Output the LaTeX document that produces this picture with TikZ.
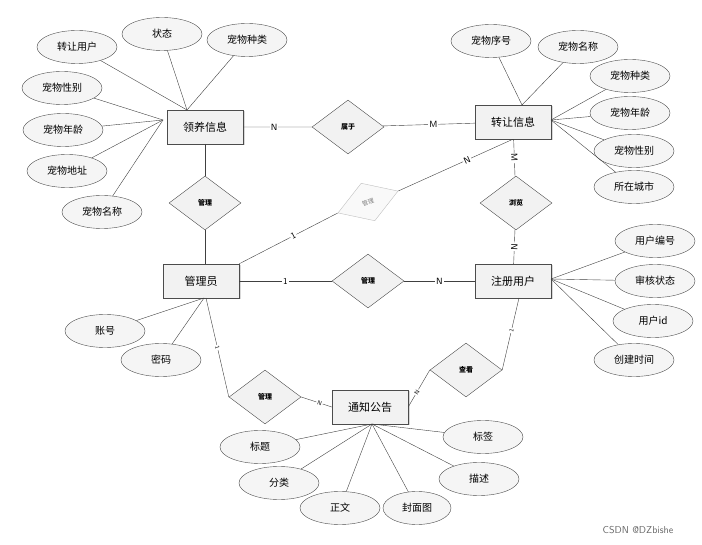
\documentclass[tikz,border=0pt]{standalone}
\usepackage{fontspec}
\newfontfamily\cjk{Noto Sans CJK SC}
\usetikzlibrary{shapes.geometric,shadows}
\begin{document}
\begin{tikzpicture}[x=1pt,y=-1pt,
  ent/.style={draw=black!70,fill=gray!10,minimum width=76pt,minimum height=34pt,font=\cjk\fontsize{11}{12}\selectfont,drop shadow={shadow xshift=1.5pt,shadow yshift=-1.5pt,opacity=0.3}},
  att/.style={draw=black!70,fill=gray!8,ellipse,minimum width=80pt,minimum height=33pt,inner sep=0pt,font=\cjk\fontsize{10}{12}\selectfont},
  rel/.style={draw=black!70,fill=gray!10,diamond,minimum width=72pt,minimum height=54pt,inner sep=0pt,font=\cjk\fontsize{7}{8}\selectfont\bfseries},
  ln/.style={draw=black!75},
  lab/.style={font=\sffamily\fontsize{9}{10}\selectfont,inner sep=1pt,fill=white},
  slab/.style={lab,sloped,font=\sffamily\fontsize{6}{7}\selectfont}]
\useasboundingbox (0,0) rectangle (702,545);
% entities
\node[ent] (ly) at (205,127) {领养信息};
\node[ent] (zr) at (513,122) {转让信息};
\node[ent] (gl) at (201,281) {管理员};
\node[ent] (zc) at (513,281) {注册用户};
\node[ent] (tz) at (370,407) {通知公告};
% relations
\node[rel] (r1) at (348,127) {属于};
\node[rel] (r2) at (205,203) {管理};
\node[rel,draw=gray!50,fill=gray!5,text=gray,rotate=20,minimum width=64pt,minimum height=40pt,font=\cjk\fontsize{6}{7}\selectfont] (r3) at (368,202) {管理};
\node[rel] (r4) at (516,203) {浏览};
\node[rel] (r5) at (368,281) {管理};
\node[rel] (r6) at (466,370) {查看};
\node[rel] (r7) at (265,397) {管理};
% connectors
\draw[ln] (ly) -- node[lab,pos=0.45]{N} (r1) -- node[lab,pos=0.55]{M} (zr);
\draw[ln] (205,144) -- (r2) -- (205,264);
\draw[ln] (gl.north east) -- node[lab,sloped,pos=0.55]{1} (r3.west);
\draw[ln] (r3.east) -- node[lab,sloped,pos=0.6]{N} (zr.south);
\draw[ln] (zr) -- node[lab,sloped,pos=0.5]{M} (r4) -- node[lab,sloped,pos=0.5]{N} (zc);
\draw[ln] (gl) -- node[lab,pos=0.5]{1} (r5) -- node[lab,pos=0.5]{N} (zc);
\coordinate (zcb) at (519,298);
\draw[ln] (zcb) -- node[slab,pos=0.45]{1} (r6.east);
\draw[ln] (r6.west) -- node[slab,pos=0.6]{N} (tz.east);
\coordinate (glb) at (206,298);
\draw[ln] (glb) -- node[slab,pos=0.5]{1} (r7.west);
\draw[ln] (r7.east) -- node[slab,pos=0.6]{N} (tz.west);
% attributes of 领养信息
\node[att] (a1) at (77,47) {转让用户};
\node[att] (a2) at (162,34) {状态};
\node[att] (a3) at (247,40) {宠物种类};
\node[att] (a4) at (62,88) {宠物性别};
\node[att] (a5) at (63,130) {宠物年龄};
\node[att] (a6) at (67,171) {宠物地址};
\node[att] (a7) at (102,212) {宠物名称};
\coordinate (lyt) at (187,110);
\coordinate (lyl) at (163,120);
\foreach \a in {a1,a2,a3} \draw[ln] (\a) -- (lyt);
\foreach \a in {a4,a5,a6,a7} \draw[ln] (\a) -- (lyl);
% attributes of 转让信息
\node[att] (b1) at (491,41) {宠物序号};
\node[att] (b2) at (578,47) {宠物名称};
\node[att] (b3) at (630,76) {宠物种类};
\node[att] (b4) at (630,113) {宠物年龄};
\node[att] (b5) at (634,151) {宠物性别};
\node[att] (b6) at (634,187) {所在城市};
\coordinate (zrt) at (522,105);
\coordinate (zrr) at (551,120);
\foreach \a in {b1,b2} \draw[ln] (\a) -- (zrt);
\foreach \a in {b3,b4,b5,b6} \draw[ln] (\a) -- (zrr);
% attributes of 注册用户
\node[att] (c1) at (655,241) {用户编号};
\node[att] (c2) at (655,281) {审核状态};
\node[att] (c3) at (653,321) {用户id};
\node[att] (c4) at (634,360) {创建时间};
\coordinate (zcr) at (551,279);
\foreach \a in {c1,c2,c3,c4} \draw[ln] (\a) -- (zcr);
% attributes of 管理员
\node[att] (d1) at (105,331) {账号};
\node[att] (d2) at (161,360) {密码};
\coordinate (glb2) at (204,298);
\foreach \a in {d1,d2} \draw[ln] (\a) -- (glb2);
% attributes of 通知公告
\node[att] (e1) at (260,447) {标题};
\node[att] (e2) at (279,483) {分类};
\node[att] (e3) at (340,508) {正文};
\node[att,minimum width=68pt] (e4) at (417,508) {封面图};
\node[att] (e5) at (479,479) {描述};
\node[att] (e6) at (483,437) {标签};
\coordinate (tzb) at (372,424);
\foreach \a in {e1,e2,e3,e4,e5,e6} \draw[ln] (\a) -- (tzb);
\node[font=\sffamily\fontsize{10}{12}\selectfont,text=gray!80!black] (wm) at (638,530) {CSDN @DZbishe};
\end{tikzpicture}
\end{document}
